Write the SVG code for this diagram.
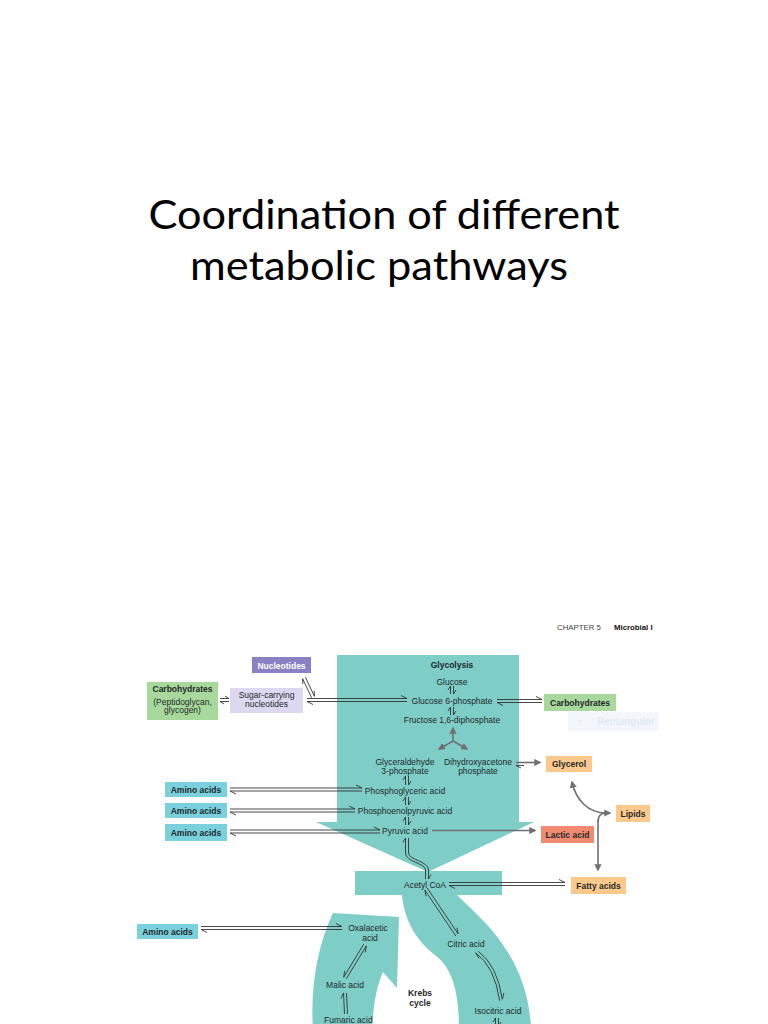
<svg xmlns="http://www.w3.org/2000/svg" width="768" height="1024" viewBox="0 0 768 1024">
<defs>
<style>
.title{font-family:Lato,"Open Sans",sans-serif;font-size:41px;fill:#000;text-anchor:middle}
.t{font-family:"Liberation Sans",Arial,sans-serif;font-size:8.5px;fill:#1e2a2a;text-anchor:middle}
.b{font-weight:bold}
.teal{fill:#7ecdc7}
.dbl{fill:none;stroke:#333;stroke-width:0.9}
.gr{fill:none;stroke:#707070;stroke-width:1.6}
</style>
<marker id="ah" viewBox="0 0 10 10" refX="8" refY="5" markerWidth="4.5" markerHeight="4.5" orient="auto" markerUnits="strokeWidth"><path d="M0,0 L10,5 L0,10 z" fill="#707070"/></marker>
</defs>
<rect width="768" height="1024" fill="#fff"/>
<g id="title">
<text class="title" x="384" y="229" textLength="471" lengthAdjust="spacingAndGlyphs">Coordination of different</text>
<text class="title" x="379" y="280" textLength="378" lengthAdjust="spacingAndGlyphs">metabolic pathways</text>
</g>
<g id="header">
<text class="t" x="557" y="630" style="text-anchor:start;font-size:7.8px;fill:#444">CHAPTER 5</text>
<text class="t b" x="614" y="630" style="text-anchor:start;font-size:7.8px;fill:#111">Microbial I</text>
</g>
<g id="shapes">
<path class="teal" d="M337,655 H519 V822 H534 L428,872 L316,822 H337 Z"/>
<rect class="teal" x="355" y="871" width="147" height="24"/>
<path class="teal" d="M402,895 C404,918 415,940 435,955 C450,967 459,985 459,1030 L531,1030 C530,995 518,966 503,945 C490,925 470,908 457,895 Z"/>
<path class="teal" d="M313,1030 C310,985 318,945 333,913 L399,917 L397,988 L383,972 C377,985 373,1005 372,1030 Z"/>
</g>
<g id="ghost">
<rect x="568" y="712" width="90" height="19" fill="#f3f7fc"/>
<text x="578" y="724" style="font-family:'Liberation Sans',Arial,sans-serif;font-size:9px;fill:#e2e9f2">•</text>
<text x="597" y="725" style="font-family:'Liberation Sans',Arial,sans-serif;font-size:10px;font-weight:bold;fill:#e2e9f2">Rectangular</text>
</g>
<g id="nucleotides"><rect x="252" y="657" width="59" height="16" fill="#8a80c4"/><text class="t b" x="281.5" y="668.5" style="fill:#fff">Nucleotides</text></g>
<g id="carb-left"><rect x="147" y="682" width="71" height="38" fill="#a9d89c"/><text class="t b" x="182.5" y="692">Carbohydrates</text><text class="t" x="182.5" y="704.5">(Peptidoglycan,</text><text class="t" x="182.5" y="713">glycogen)</text></g>
<g id="sugar"><rect x="230" y="688" width="73" height="25" fill="#dcd8ef"/><text class="t" x="266.5" y="698">Sugar-carrying</text><text class="t" x="266.5" y="707">nucleotides</text></g>
<g id="carb-right"><rect x="544" y="694" width="72" height="17" fill="#a9d89c"/><text class="t b" x="580" y="705.5">Carbohydrates</text></g>
<g id="amino1"><rect x="165" y="782" width="62" height="15" fill="#7bd0de"/><text class="t b" x="196" y="792.5">Amino acids</text></g>
<g id="amino2"><rect x="165" y="803" width="62" height="15" fill="#7bd0de"/><text class="t b" x="196" y="813.5">Amino acids</text></g>
<g id="amino3"><rect x="165" y="824" width="62" height="17" fill="#7bd0de"/><text class="t b" x="196" y="835.5">Amino acids</text></g>
<g id="amino4"><rect x="137" y="924" width="61" height="15" fill="#7bd0de"/><text class="t b" x="167.5" y="934.5">Amino acids</text></g>
<g id="glycerol"><rect x="546" y="756" width="46" height="16" fill="#fbc98b"/><text class="t b" x="569" y="767">Glycerol</text></g>
<g id="lipids"><rect x="616" y="805" width="34" height="17" fill="#fbc98b"/><text class="t b" x="633" y="816.5">Lipids</text></g>
<g id="lactic"><rect x="541" y="826" width="53" height="17" fill="#f28a72"/><text class="t b" x="567.5" y="837.5">Lactic acid</text></g>
<g id="fatty"><rect x="571" y="877" width="55" height="17" fill="#fbc98b"/><text class="t b" x="598.5" y="888.5">Fatty acids</text></g>
<g id="glycolysis-labels">
<text class="t b" x="452" y="668">Glycolysis</text>
<text class="t" x="452" y="685">Glucose</text>
<text class="t" x="452" y="704">Glucose 6-phosphate</text>
<text class="t" x="452" y="723">Fructose 1,6-diphosphate</text>
<text class="t" x="405" y="765">Glyceraldehyde</text>
<text class="t" x="405" y="774">3-phosphate</text>
<text class="t" x="478" y="765">Dihydroxyacetone</text>
<text class="t" x="478" y="774">phosphate</text>
<text class="t" x="405" y="794">Phosphoglyceric acid</text>
<text class="t" x="405" y="814">Phosphoenolpyruvic acid</text>
<text class="t" x="405" y="834">Pyruvic acid</text>
<text class="t" x="425" y="888">Acetyl CoA</text>
</g>
<g id="krebs-labels">
<text class="t" x="368" y="931">Oxalacetic</text>
<text class="t" x="370" y="941">acid</text>
<text class="t" x="466" y="947">Citric acid</text>
<text class="t" x="345" y="988">Malic acid</text>
<text class="t" x="498" y="1014">Isocitric acid</text>
<text class="t b" x="420" y="996">Krebs</text>
<text class="t b" x="420" y="1006">cycle</text>
<text class="t" x="324" y="1022.5" style="text-anchor:start">Fumaric acid</text>
</g>
<g id="connectors">
<path class="dbl" d="M307,698.5 H407 l-6,-3 M407,701.5 H307 l6,3"/>
<path class="dbl" d="M497,699.5 H542 l-6,-3 M542,702.5 H497 l6,3"/>
<path class="dbl" d="M220,698.5 H229 l-4,-2.5 M229,701.5 H220 l4,2.5"/>
<path class="dbl" d="M230,788 H362 l-6,-3 M362,791 H230 l6,3"/>
<path class="dbl" d="M230,809 H355 l-6,-3 M355,812 H230 l6,3"/>
<path class="dbl" d="M230,830 H380 l-6,-3 M380,833 H230 l6,3"/>
<path class="dbl" d="M449,882.5 H565 l-6,-3 M565,885.5 H449 l6,3"/>
<path class="dbl" d="M201,926.5 H342 l-6,-3 M342,929.5 H201 l6,3"/>
<path class="dbl" d="M450.5,694 V686 l-2.5,4 M453.5,686 V694 l2.5,-4"/>
<path class="dbl" d="M450.5,715 V707 l-2.5,4 M453.5,707 V715 l2.5,-4"/>
<path class="dbl" d="M405.5,785 V776 l-2.5,4 M408.5,776 V785 l2.5,-4"/>
<path class="dbl" d="M405.5,805 V797 l-2.5,4 M408.5,797 V805 l2.5,-4"/>
<path class="dbl" d="M405.5,825 V817 l-2.5,4 M408.5,817 V825 l2.5,-4"/>
<path class="dbl" d="M495.5,1026 V1018 l-2.5,4 M498.5,1018 V1026 l2.5,-4"/>
<path class="dbl" d="M302.6,678.7 L311.6,697.7 M302.6,678.7 L302.8,684.1 M305.4,677.3 L314.4,696.3 L314.2,690.9"/>
<path class="dbl" d="M405.5,838 V853 C405.5,862 425.5,863 425.5,870 V879 M405.5,838 L403,842.5 M408.5,838 V853 C408.5,860 428.5,861 428.5,870 V879 l2.5,-4.5"/>
<path class="dbl" d="M424.8,890 L455.8,936 M424.8,890 L426.1,896.4 M427.2,888 L458.2,934 L456.9,927.6"/>
<path class="dbl" d="M475.7,952.7 Q494.7,966.7 499.7,1000.7 M475.7,952.7 L479,958.3 M478.3,951.3 Q497.3,965.3 502.3,999.3 L503.9,993"/>
<path class="dbl" d="M343.7,977.2 L363.7,944.2 M343.7,977.2 L344.7,970.7 M346.3,978.8 L366.3,945.8 L365.3,952.3"/>
<path class="dbl" d="M343.5,993 L344.5,1014 M343.5,993 L341,998.5 M346.5,993 L347.5,1014"/>
<path class="gr" d="M453,741 V728" marker-end="url(#ah)"/>
<path class="gr" d="M453,741 L439,749" marker-end="url(#ah)"/>
<path class="gr" d="M453,741 L467,749" marker-end="url(#ah)"/>
<path class="gr" d="M516,762.5 H540" marker-end="url(#ah)"/>
<path class="dbl" d="M516,765.5 H524 M516,765.5 l5,2.5"/>
<path class="gr" d="M432,830.5 H535" marker-end="url(#ah)"/>
<path class="gr" d="M598,822 C598,815 601,813 606,813 H610" marker-end="url(#ah)"/>
<path class="gr" d="M606,813 C588,813 576,800 572,782" marker-end="url(#ah)"/>
<path class="gr" d="M598,820 V870" marker-end="url(#ah)"/>
</g>
</svg>
